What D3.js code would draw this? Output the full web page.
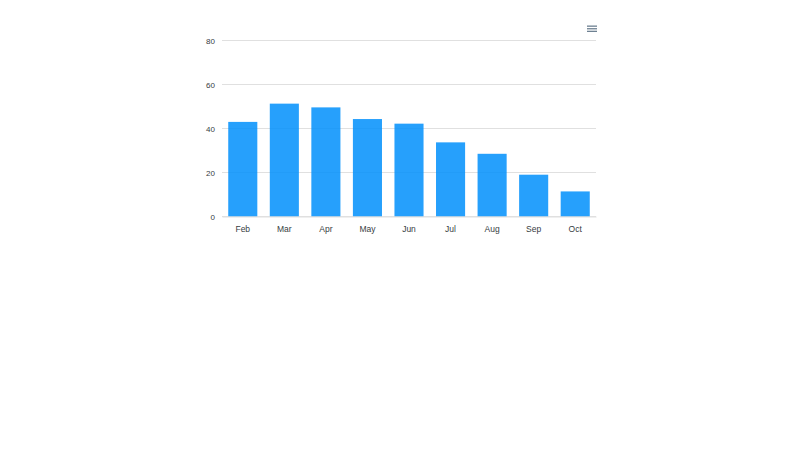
<!DOCTYPE html>
<html>
<head>
<meta charset="utf-8">
<script src="https://cdn.jsdelivr.net/npm/d3@7"></script>
<style>
  body { margin: 0; background: #fff; }
  text { font-family: Helvetica, Arial, "Liberation Sans", sans-serif; fill: #373d3f; }
</style>
</head>
<body>
<div id="chart"></div>
<script>
var months = ["Feb", "Mar", "Apr", "May", "Jun", "Jul", "Aug", "Sep", "Oct"];
var values = [43, 51.3, 49.6, 44.3, 42.2, 33.7, 28.5, 19, 11.4];
var yTicks = [0, 20, 40, 60, 80];

var svgWidth = 800;
var svgHeight = 450;

var margin = { top: 40.5, left: 222, right: 204, bottom: 233.5 };
var width = svgWidth - margin.left - margin.right;
var height = svgHeight - margin.top - margin.bottom;

var svg = d3.select("#chart")
  .append("svg")
  .attr("width", svgWidth)
  .attr("height", svgHeight);

var chartGroup = svg.append("g")
  .attr("transform", `translate(${margin.left}, ${margin.top})`);

// scales
var xScale = d3.scaleBand().domain(months).range([0, width]).paddingInner(0.3).paddingOuter(0.15);
var yScale = d3.scaleLinear().domain([0, 80]).range([height, 0]);

// gridlines
chartGroup.append("g")
  .selectAll("line")
  .data(yTicks)
  .enter()
  .append("line")
  .attr("x1", 0)
  .attr("x2", width)
  .attr("y1", d => yScale(d))
  .attr("y2", d => yScale(d))
  .attr("stroke", "#e0e0e0")
  .attr("stroke-width", 1);

// y axis labels
var leftAxis = d3.axisLeft(yScale).tickValues(yTicks).tickSize(0).tickPadding(7);
var yAxis = chartGroup.append("g").call(leftAxis);
yAxis.select(".domain").remove();
yAxis.selectAll("text")
  .style("font-size", "8px")
  .attr("fill", "#373d3f");

// bars
chartGroup.selectAll("rect")
  .data(values)
  .enter()
  .append("rect")
  .attr("x", (d, i) => xScale(months[i]))
  .attr("y", d => yScale(d))
  .attr("width", xScale.bandwidth())
  .attr("height", d => height - yScale(d))
  .attr("fill", "#008FFB")
  .attr("fill-opacity", 0.85);

// x axis
var bottomAxis = d3.axisBottom(xScale).tickSize(0).tickPadding(9);
var xAxis = chartGroup.append("g")
  .attr("transform", `translate(0, ${height})`)
  .call(bottomAxis);
xAxis.select(".domain").attr("stroke", "#e0e0e0");
xAxis.selectAll("text")
  .style("font-size", "8.5px")
  .attr("fill", "#373d3f");

// menu icon
var menu = svg.append("g").attr("transform", "translate(587, 25.5)");
menu.selectAll("rect")
  .data([0, 1, 2])
  .enter()
  .append("rect")
  .attr("x", 0)
  .attr("y", d => d * 2.6)
  .attr("width", 10)
  .attr("height", 1.3)
  .attr("fill", "#6e8192");
</script>
</body>
</html>
